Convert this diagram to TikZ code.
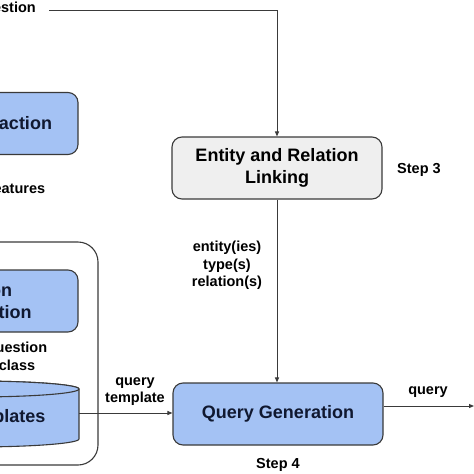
\documentclass[tikz,border=0pt]{standalone}
\usepackage{fontspec}
\setmainfont{Liberation Sans}
\usetikzlibrary{arrows.meta}
\definecolor{boxblue}{HTML}{A4C2F4}
\definecolor{boxgray}{HTML}{EFEFEF}
\definecolor{edge}{HTML}{3A3A3A}
\definecolor{navy}{HTML}{101830}
\begin{document}
\begin{tikzpicture}[x=1pt,y=-1pt,
  box/.style={draw=edge, line width=1.1pt, rounded corners=10pt, minimum width=210pt, minimum height=62pt, align=center, text=navy, font=\bfseries\fontsize{18}{22}\selectfont},
  lbl/.style={font=\bfseries\fontsize{14.5}{17.5}\selectfont, align=center, inner sep=0pt, text=black},
  arr/.style={draw=edge, line width=1pt, -{Triangle[length=5pt,width=4pt]}}]
\useasboundingbox (0,0) rectangle (474,474);
\clip (0,0) rectangle (474,474);
% container
\draw[edge, line width=1.1pt, rounded corners=20pt] (-170,242) rectangle (98,465);
% boxes
\node[box, fill=boxgray, text=black] (erl) at (277,168) {Entity and Relation\\Linking};
\node[box, fill=boxblue] (qg) at (278,414) {Query Generation};
\node[box, fill=boxblue] (fe) at (-27,123.5) {Feature Extraction};
\node[box, fill=boxblue] (qc) at (-27,301) {Question\\Classification};
% cylinder
\path[fill=boxblue, draw=edge, line width=1.1pt] (-133,389) -- (-133,439)
  arc[start angle=180, end angle=360, x radius=106pt, y radius=8pt] -- (79,389)
  arc[start angle=0, end angle=180, x radius=106pt, y radius=8pt] -- cycle;
\draw[edge, line width=1.1pt, fill=boxblue] (-27,389) ellipse [x radius=106pt, y radius=8pt];
\node[text=navy, font=\bfseries\fontsize{18}{22}\selectfont] (tpl) at (-27,418) {Query Templates};
% labels
\node[lbl, anchor=east] (q) at (36,9) {question};
\node[lbl] (feat) at (17,188) {features};
\node[lbl] (qcl) at (17,356.5) {question\\class};
\node[lbl] (ent) at (227,265.5) {entity(ies)\\type(s)\\relation(s)};
\node[lbl, anchor=west] (s3) at (397,170) {Step 3};
\node[lbl] (s4) at (278,465) {Step 4};
\node[lbl] (qt) at (135,391.5) {query\\template};
\node[lbl] (qo) at (428,392) {query};
% connectors
\coordinate (qstart) at (49,10);
\draw[arr] (qstart) -| (erl.north);
\draw[arr] (erl.south) -- (erl.south |- qg.north);
\coordinate (cylR) at (79,413);
\draw[arr] (cylR) -- (qg.west |- cylR);
\coordinate (qend) at (474,406);
\draw[arr] (qg.east |- qend) -- (qend);
\draw[arr] (fe.south) -- (qc.north);
\coordinate (cylT) at (-27,381);
\draw[arr] (qc.south) -- (cylT);
\end{tikzpicture}
\end{document}
